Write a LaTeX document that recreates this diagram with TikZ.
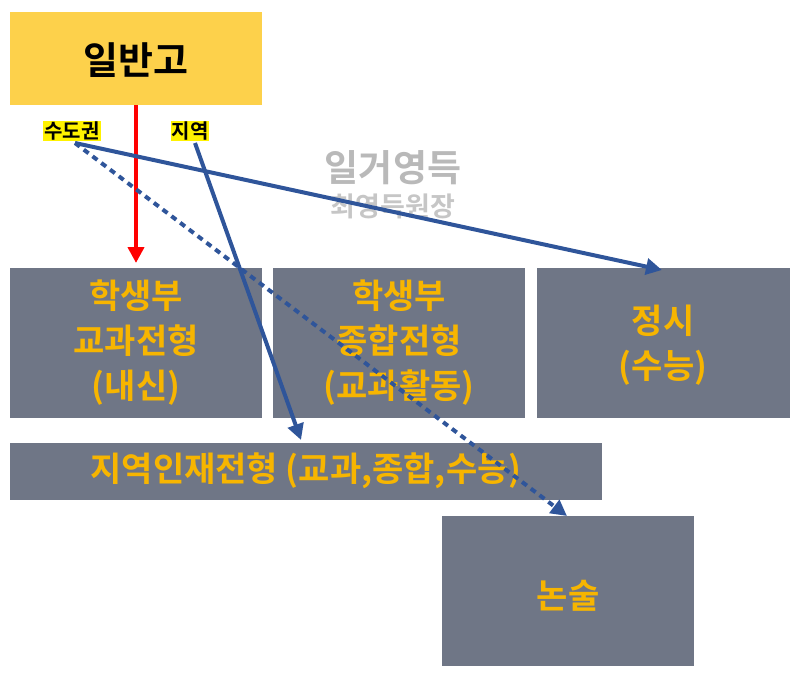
\documentclass[tikz,border=0pt]{standalone}
\usepackage{fontspec}
\newfontfamily\kr{Noto Sans CJK KR Bold}
\usetikzlibrary{arrows.meta}
\definecolor{ybox}{HTML}{FDD14B}
\definecolor{gbox}{HTML}{6F7686}
\definecolor{otext}{HTML}{F7B500}
\definecolor{barrow}{HTML}{2F559A}
\begin{document}
\begin{tikzpicture}[x=1pt,y=-1pt,
  gb/.style={fill=gbox,text=otext,font=\kr\fontsize{34}{45}\selectfont,align=center,inner sep=0},
  hl/.style={fill=yellow,font=\kr\fontsize{20}{22}\selectfont,inner sep=1pt},
  arr/.style={line width=4pt,-{Triangle[length=16pt,width=16pt]}}]
\useasboundingbox (0,0) rectangle (800,679);
\fill[ybox] (10,12) rectangle (262,105);
\node[font=\kr\fontsize{38}{40}\selectfont] (top) at (136,60) {일반고};
\node[hl] (sd) at (72,131) {수도권};
\node[hl] (jy) at (190,131) {지역};
\node[font=\kr\fontsize{37}{40}\selectfont,text=gray!55] (wm1) at (393,168) {일거영득};
\node[font=\kr\fontsize{27}{30}\selectfont,text=gray!45] (wm2) at (393,206) {최영득원장};
\fill[gbox] (10,268) rectangle (262,418);
\node[gb] (a) at (136,343) {학생부\\교과전형\\(내신)};
\fill[gbox] (273,268) rectangle (525,418);
\node[gb] (b) at (399,343) {학생부\\종합전형\\(교과활동)};
\fill[gbox] (537,268) rectangle (790,418);
\node[gb] (c) at (663,345) {정시\\(수능)};
\fill[gbox] (10,443) rectangle (602,500);
\node[gb] (d) at (306,471) {지역인재전형 (교과,종합,수능)};
\fill[gbox] (442,516) rectangle (694,666);
\node[gb] (e) at (568,596) {논술};
\coordinate (s1) at (75,143);
\coordinate (s2) at (195,143);
\coordinate (rt) at (136,105);
\coordinate (re) at (136,263);
\coordinate (ce) at (662,270);
\coordinate (de) at (301,440);
\coordinate (ee) at (567,516);
\draw[arr,red] (rt) -- (re);
\draw[arr,barrow] (s1) -- (ce);
\draw[arr,barrow] (s2) -- (de);
\draw[arr,barrow,dash pattern=on 6pt off 5pt] (s1) -- (ee);
\end{tikzpicture}
\end{document}
